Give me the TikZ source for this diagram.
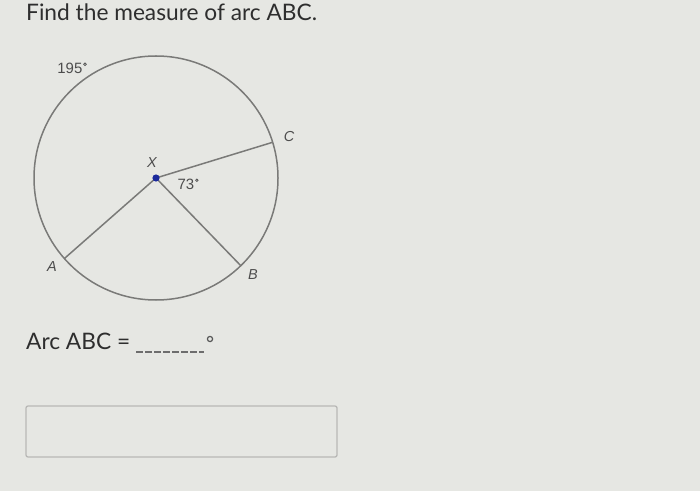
\documentclass[tikz,border=0pt]{standalone}
\usepackage{fontspec}
\setmainfont{Lato}
\newfontfamily\figfont{Liberation Sans}
\definecolor{bg}{HTML}{E6E7E3}
\definecolor{lineg}{HTML}{7A7A78}
\definecolor{txt}{HTML}{2E2E2E}
\definecolor{dotblue}{HTML}{1B2A9C}
\definecolor{boxg}{HTML}{B8B8B6}
\newcommand{\degmark}{\raisebox{9bp}{\tikz[baseline]\draw[line width=0.7bp] (0,0) circle[radius=1.3bp];}}
\begin{document}
\begin{tikzpicture}[x=1bp,y=-1bp,
  geo/.style={draw=lineg,line width=1.5bp},
  ptlabel/.style={font=\figfont\fontsize{14.5}{14.5}\selectfont\itshape,text=txt!85,inner sep=0pt},
  anglabel/.style={font=\figfont\fontsize{15}{15}\selectfont,text=txt!85,inner sep=0pt},
  bigtext/.style={font=\fontsize{22.8}{22.8}\selectfont,text=txt,inner sep=0pt,anchor=base west}]
\fill[bg] (0,0) rectangle (700,491);
\useasboundingbox (0,0) rectangle (700,491);
% title
\node[bigtext] (title) at (26,21) {Find the measure of arc ABC.};
% circle
\coordinate (X) at (156,178);
\coordinate (A) at (64.4,258.5);
\coordinate (B) at (240.8,265.7);
\coordinate (C) at (272.6,142.3);
\draw[geo] (X) circle[radius=122];
\draw[geo] (X) -- (A);
\draw[geo] (X) -- (B);
\draw[geo] (X) -- (C);
\fill[dotblue] (X) circle[radius=3.6];
% labels
\node[anglabel] (l195) at (72,68) {195\kern1bp\degmark};
\node[ptlabel] (lX) at (152,163) {X};
\node[anglabel] (l73) at (188,184) {73\kern1bp\degmark};
\node[ptlabel] (lC) at (289,137) {C};
\node[ptlabel] (lA) at (52,267) {A};
\node[ptlabel] (lB) at (253,275) {B};
% answer line
\node[bigtext] (arc) at (26,349) {Arc ABC =};
\coordinate (d1) at (136,352);
\coordinate (d2) at (204,352);
\draw[txt!70,line width=1.2bp,dash pattern=on 7bp off 2bp] (d1) -- (d2);
\draw[txt!80,line width=1.2bp] (210,339) circle[radius=2.6];
% answer box
\draw[boxg,line width=1.3bp,rounded corners=2bp] (26,406) rectangle (337,457);
\end{tikzpicture}
\end{document}
